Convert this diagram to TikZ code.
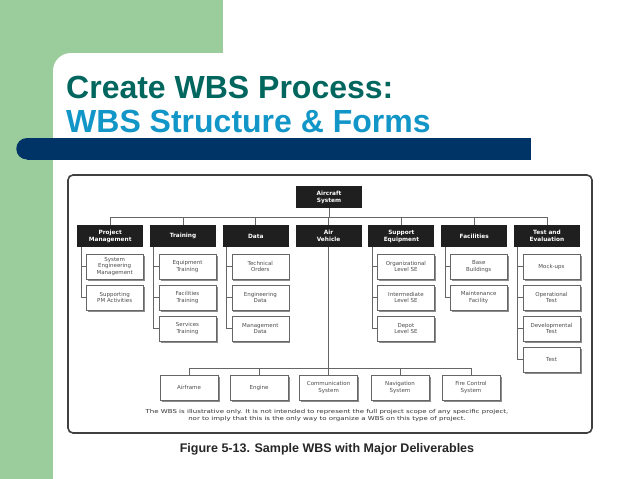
\documentclass[tikz,border=0pt]{standalone}
\usepackage{fontspec}
\setmainfont{Liberation Sans}
\newfontfamily\djv{DejaVu Sans}
\usetikzlibrary{calc,shadows}
\definecolor{greenbg}{RGB}{155,204,155}
\definecolor{titleA}{RGB}{0,102,94}
\definecolor{titleB}{RGB}{18,150,200}
\definecolor{navy}{RGB}{0,51,102}
\tikzset{
  topbox/.style={fill=black!88, text=white, font=\djv\bfseries\fontsize{5.8}{7}\selectfont,
    minimum width=66pt, minimum height=22pt, align=center, inner sep=1pt},
  leafbox/.style={draw=black!60, line width=0.6pt, fill=white, text=black!70,
    font=\djv\fontsize{5.5}{6.7}\selectfont, minimum width=57pt, minimum height=25pt,
    align=center, inner sep=1pt,
    drop shadow={shadow xshift=1.5pt, shadow yshift=-1.5pt, fill=black!45, opacity=1}},
  conn/.style={draw=black!60, line width=0.7pt},
}
\begin{document}
\begin{tikzpicture}[x=1pt,y=-1pt]
\useasboundingbox (0,0) rectangle (638,479);
% background
\fill[greenbg] (0,0) rectangle (223,479);
\fill[white] (71,53) rectangle (638,479);
\fill[white] (53,71) rectangle (638,479);
\fill[white] (71,71) circle (18);
% title
\node[anchor=base west, inner sep=0, text=titleA, font=\bfseries\fontsize{32}{32}\selectfont] (t1) at (66,98) {Create WBS Process:};
\node[anchor=base west, inner sep=0, text=titleB, font=\bfseries\fontsize{32}{32}\selectfont] (t2) at (66,132) {WBS Structure \& Forms};
% bar
\fill[navy] (27,138) rectangle (531,159.5);
\fill[navy] (27,148.75) circle (10.75);
% frame
\draw[line width=1.6pt, draw=black!75, rounded corners=5pt, fill=white] (68,175) rectangle (592,433);
% top
\node[topbox] (as) at (329,197) {Aircraft\\System};
% level 2
\node[topbox] (pm) at (110.2,236) {Project\\Management};
\node[topbox] (tr) at (183,236) {Training};
\node[topbox] (da) at (255.8,236) {Data};
\node[topbox] (av) at (328.6,236) {Air\\Vehicle};
\node[topbox] (se) at (401.4,236) {Support\\Equipment};
\node[topbox] (fa) at (474.2,236) {Facilities};
\node[topbox] (te) at (547,236) {Test and\\Evaluation};
\coordinate (bus) at (0,217);
\draw[conn] (as.south) -- (as.south |- bus);
\draw[conn] (pm.north) -- (pm.north |- bus) -- (te.north |- bus) -- (te.north);
\foreach \n in {tr,da,av,se,fa} \draw[conn] (\n.north) -- (\n.north |- bus);
% children
\node[leafbox] (pm1) at (114.7,266.5) {System\\Engineering\\Management};
\node[leafbox] (pm2) at (114.7,297.5) {Supporting\\PM Activities};
\node[leafbox] (tr1) at (187.5,266.5) {Equipment\\Training};
\node[leafbox] (tr2) at (187.5,297.5) {Facilities\\Training};
\node[leafbox] (tr3) at (187.5,328.5) {Services\\Training};
\node[leafbox] (da1) at (260.3,266.5) {Technical\\Orders};
\node[leafbox] (da2) at (260.3,297.5) {Engineering\\Data};
\node[leafbox] (da3) at (260.3,328.5) {Management\\Data};
\node[leafbox] (se1) at (405.9,266.5) {Organizational\\Level SE};
\node[leafbox] (se2) at (405.9,297.5) {Intermediate\\Level SE};
\node[leafbox] (se3) at (405.9,328.5) {Depot\\Level SE};
\node[leafbox] (fa1) at (478.7,266.5) {Base\\Buildings};
\node[leafbox] (fa2) at (478.7,297.5) {Maintenance\\Facility};
\node[leafbox] (te1) at (551.5,266.5) {Mock-ups};
\node[leafbox] (te2) at (551.5,297.5) {Operational\\Test};
\node[leafbox] (te3) at (551.5,328.5) {Developmental\\Test};
\node[leafbox] (te4) at (551.5,359.5) {Test};
\foreach \p/\c in {pm/pm1,pm/pm2,tr/tr1,tr/tr2,tr/tr3,da/da1,da/da2,da/da3,se/se1,se/se2,se/se3,fa/fa1,fa/fa2,te/te1,te/te2,te/te3,te/te4}
  \draw[conn] ($(\p.south west)+(4,0)$) |- (\c.west);
% air vehicle children
\node[leafbox, minimum width=58pt] (af) at (189,387.5) {Airframe};
\node[leafbox, minimum width=58pt] (en) at (259,387.5) {Engine};
\node[leafbox, minimum width=58pt] (cs) at (328.6,387.5) {Communication\\System};
\node[leafbox, minimum width=58pt] (ns) at (400,387.5) {Navigation\\System};
\node[leafbox, minimum width=58pt] (fc) at (471,387.5) {Fire Control\\System};
\coordinate (bbus) at (0,368);
\draw[conn] (av.south) -- (cs.north);
\draw[conn] (af.north) -- (af.north |- bbus) -- (fc.north |- bbus) -- (fc.north);
\foreach \n in {en,ns} \draw[conn] (\n.north) -- (\n.north |- bbus);
% note
\node[text=black!80, inner sep=0] (note) at (327,415.5)
  {\scalebox{1.3}[1]{\djv\fontsize{5.4}{7.3}\selectfont\begin{tabular}{@{}c@{}}The WBS is illustrative only. It is not intended to represent the full project scope of any specific project,\\nor to imply that this is the only way to organize a WBS on this type of project.\end{tabular}}};
% caption
\node[text=black!85, font=\bfseries\fontsize{12.5}{14}\selectfont, inner sep=0] (cap) at (327,449) {Figure 5-13. Sample WBS with Major Deliverables};
\end{tikzpicture}
\end{document}
